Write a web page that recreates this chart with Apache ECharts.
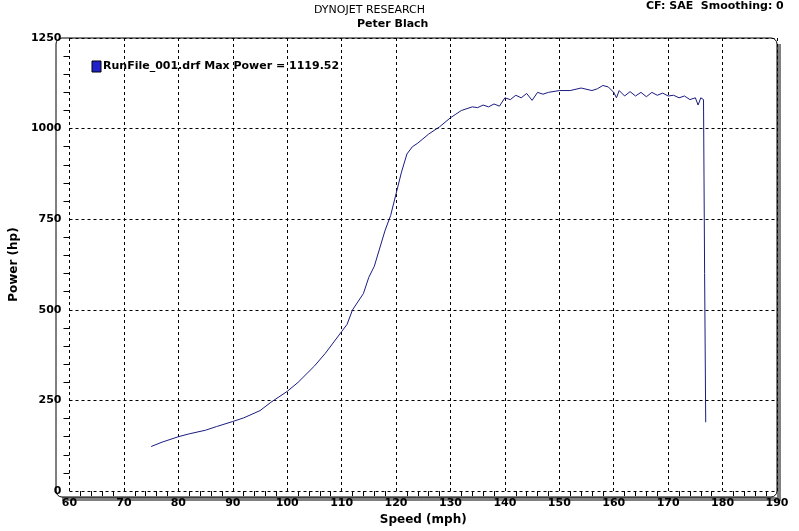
<!DOCTYPE html><html><head><meta charset="utf-8"><script src="https://cdn.jsdelivr.net/npm/echarts@6/dist/echarts.min.js"></script>
<style>body{margin:0;background:#fff}#c{width:799px;height:531px}</style></head><body><div id="c"></div><script>
const speed=[75,77,80,82,85,87,90,92,95,97,100,102,105,107,110,111,112,114,115,116,118,119,120,121,122,123,124,126,128,130,131,132,134,135,136,137,138,139,140,141,142,143,144,145,146,147,148,150,152,154,156,157,158,159,160,160.5,161,162,163,164,165,166,167,168,169,170,171,172,173,174,175,175.5,176,176.5,176.7,176.9];
const power=[123,135,150,158,168,178,192,202,222,245,275,300,345,380,440,460,500,545,590,620,720,760,820,880,930,950,960,985,1005,1030,1040,1050,1060,1058,1065,1060,1068,1062,1085,1080,1092,1085,1097,1078,1100,1095,1100,1105,1105,1112,1105,1110,1119,1115,1100,1085,1105,1090,1102,1090,1100,1088,1100,1092,1098,1090,1092,1085,1090,1080,1085,1065,1085,1080,600,190];
const xTicks=[60,70,80,90,100,110,120,130,140,150,160,170,180,190];
const yTicks=[0,250,500,750,1000,1250];
const font='Verdana, "DejaVu Sans", sans-serif';
const ch=echarts.init(document.getElementById('c'));
ch.setOption({animation:false,
graphic:[{type:'rect',shape:{x:777,y:44,width:4,height:457},style:{fill:'#808080'}},
{type:'rect',shape:{x:62,y:497,width:719,height:4},style:{fill:'#808080'}},
{type:'rect',shape:{x:56,y:38,width:721,height:459,r:6},style:{fill:'none',stroke:'#000',lineWidth:1},z:10},
{type:'rect',shape:{x:92,y:61,width:9,height:11},style:{fill:'#2222cc',stroke:'#000',lineWidth:1},z:10},
{type:'text',left:103,top:61,style:{text:'RunFile_001.drf Max Power = 1119.52',font:'bold 11px '+font,fill:'#000'},z:10},
{type:'text',left:314,top:5,style:{text:'DYNOJET RESEARCH',font:'11px '+font,fill:'#000'}},
{type:'text',left:357,top:19,style:{text:'Peter Blach',font:'bold 11px '+font,fill:'#000'}},
{type:'text',left:646,top:1,style:{text:'CF: SAE  Smoothing: 0',font:'bold 11px '+font,fill:'#000'}}],
grid:{left:56,top:38,width:721,height:459},
xAxis:{type:'value',min:60,max:190,interval:10,name:'Speed (mph)',nameLocation:'middle',nameGap:21,nameTextStyle:{fontWeight:'bold',fontSize:12,fontFamily:font,color:'#000'},
axisLine:{show:false},axisTick:{show:false},minorTick:{show:true,splitNumber:5,length:5,lineStyle:{color:'#000'}},axisLabel:{fontWeight:'bold',fontSize:11,fontFamily:font,color:'#000',margin:7,formatter:v=>String(v)},
splitLine:{lineStyle:{color:'#000',type:[3,3]}}},
yAxis:{type:'value',min:0,max:1250,interval:250,name:'Power (hp)',nameLocation:'middle',nameGap:42,nameTextStyle:{fontWeight:'bold',fontSize:12,fontFamily:font,color:'#000'},
axisLine:{show:false},axisTick:{show:false},minorTick:{show:true,splitNumber:5,length:6,lineStyle:{color:'#000'}},axisLabel:{fontWeight:'bold',fontSize:11,fontFamily:font,color:'#000',margin:8,formatter:v=>String(v)},
splitLine:{lineStyle:{color:'#000',type:[3,3]}}},
series:[{type:'line',data:speed.map((s,i)=>[s,power[i]]),showSymbol:false,lineStyle:{color:'#1a1a80',width:1}}]});
</script></body></html>
